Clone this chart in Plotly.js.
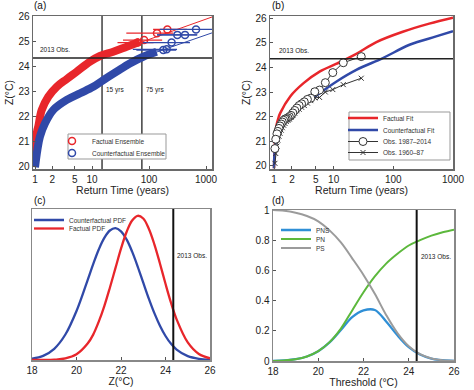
<!DOCTYPE html>
<html><head><meta charset="utf-8">
<script src="https://cdn.plot.ly/plotly-3.0.1.min.js"></script>
<style>html,body{margin:0;padding:0;background:#fff}#chart{width:474px;height:390px}</style>
</head><body><div id="chart"></div>
<script>
// ---------- Panel (a): ensemble return times ----------
const aFactBandT = [1.0, 1.04, 1.1, 1.14, 1.31, 1.71, 2.4, 3.6, 5.4, 9.2, 13.8, 23.6, 40.5, 69];
const aFactBandZ = [20.4, 21.05, 21.45, 21.58, 22.25, 22.79, 23.19, 23.5, 23.8, 24.2, 24.43, 24.6, 24.8, 25.0];
const aCfBandT = [1.0, 1.1, 1.22, 1.5, 2.1, 3.6, 6.2, 10.5, 15.8, 27, 46, 79, 136];
const aCfBandZ = [19.95, 20.64, 21.18, 21.72, 22.26, 22.66, 22.93, 23.19, 23.46, 23.8, 24.13, 24.4, 24.6];
const aFactFitT = [50, 1274];
const aFactFitZ = [24.85, 26.0];
const aCfFitT = [79, 1274];
const aCfFitZ = [24.4, 25.36];
const aFactPtT = [63, 82, 138, 210];
const aFactPtZ = [24.97, 25.07, 25.35, 25.5];
const aFactPtLo = [28, 35, 40, 118];
const aFactPtHi = [120, 170, 266, 460];
const aCfPtT = [178, 204, 249, 314, 428, 668];
const aCfPtZ = [24.67, 24.7, 24.97, 25.28, 25.28, 25.5];
const aCfPtLo = [60, 52, 78, 138, 138, 155];
const aCfPtHi = [300, 310, 523, 700, 700, 1274];
const markT = [15, 75];
const markLabels = ['15 yrs', '75 yrs'];
const obs2013 = 24.35;

// ---------- Panel (b): fits and observations ----------
const bFactFitT = [1.0, 1.02, 1.05, 1.09, 1.18, 1.27, 1.87, 3.13, 5.9, 11.2, 24, 52, 144, 400, 1000];
const bFactFitZ = [19.9, 20.6, 21.2, 21.6, 21.93, 22.14, 22.82, 23.36, 23.84, 24.15, 24.55, 25.03, 25.45, 25.78, 26.02];
const bCfFitT = [1.0, 1.02, 1.08, 1.26, 1.53, 1.87, 3.13, 5.9, 11.2, 24, 67, 187, 522, 1000];
const bCfFitZ = [19.9, 20.5, 21.0, 21.45, 21.78, 21.98, 22.45, 22.96, 23.43, 23.9, 24.38, 24.92, 25.26, 25.47];
const obsT = [29, 14.5, 9.67, 7.25, 5.8, 4.83, 4.14, 3.63, 3.22, 2.9, 2.64, 2.42, 2.23, 2.07, 1.93, 1.81, 1.71, 1.61, 1.53, 1.45, 1.38, 1.32, 1.26, 1.21, 1.16, 1.12, 1.07, 1.036];
const obs1987Z = [24.44, 24.19, 23.79, 23.38, 23.08, 23.01, 22.75, 22.7, 22.6, 22.52, 22.45, 22.35, 22.25, 22.15, 22.05, 22.0, 21.95, 21.92, 21.9, 21.85, 21.78, 21.7, 21.62, 21.52, 21.4, 21.3, 21.08, 20.7];
const obs1960Z = [23.56, 23.3, 23.1, 23.0, 22.78, 22.76, 22.65, 22.55, 22.45, 22.38, 22.3, 22.24, 22.15, 22.05, 21.98, 21.9, 21.85, 21.8, 21.72, 21.65, 21.55, 21.45, 21.32, 21.2, 21.05, 20.8, 20.5, 20.1];

// ---------- Panel (c): PDFs ----------
const cZ = [18, 18.5, 19, 19.5, 20, 20.5, 20.75, 21, 21.25, 21.5, 21.75, 22, 22.25, 22.5, 22.75, 23, 23.25, 23.5, 23.75, 24, 24.25, 24.5, 25, 25.5, 26];
const cFactPdf = [0.00002, 0.00015, 0.0009, 0.004, 0.0145, 0.042, 0.065, 0.098, 0.138, 0.185, 0.235, 0.285, 0.3275, 0.357, 0.369, 0.362, 0.336, 0.296, 0.247, 0.195, 0.146, 0.104, 0.045, 0.0155, 0.0044];
const cCfPdf = [0.0034, 0.0107, 0.0287, 0.0652, 0.1254, 0.2046, 0.2454, 0.2829, 0.3125, 0.3314, 0.3373, 0.3292, 0.3085, 0.2773, 0.2392, 0.1979, 0.157, 0.1198, 0.0876, 0.0614, 0.0413, 0.0267, 0.0099, 0.0031, 0.0008];

// ---------- Panel (d): probabilities of causation ----------
const dU = [18, 18.5, 19, 19.5, 20, 20.5, 21, 21.5, 22, 22.5, 23, 23.5, 24, 24.5, 25, 25.5, 26];
const dPS = [1.0, 0.995, 0.982, 0.96, 0.925, 0.865, 0.785, 0.68, 0.57, 0.445, 0.305, 0.185, 0.098, 0.045, 0.017, 0.005, 0.001];
const dPN = [0, 0.004, 0.012, 0.03, 0.065, 0.125, 0.215, 0.335, 0.455, 0.56, 0.645, 0.71, 0.765, 0.8, 0.83, 0.853, 0.87];
const dPNS = [0, 0.004, 0.012, 0.03, 0.065, 0.123, 0.205, 0.29, 0.335, 0.338, 0.262, 0.17, 0.092, 0.043, 0.016, 0.005, 0.001];

const RED = '#e8262b', BLUE = '#3049a8';
const FONT = 'Liberation Sans, Arial, sans-serif';

function errArrays(T, lo, hi) {
  return {type: 'data', symmetric: false, array: T.map((t, i) => hi[i] - t), arrayminus: T.map((t, i) => t - lo[i]), width: 0, thickness: 1.3};
}

const traces = [
  // (a)
  {x: aFactBandT, y: aFactBandZ, mode: 'lines', line: {color: RED, width: 8, shape: 'spline'}, xaxis: 'x', yaxis: 'y', showlegend: false, hoverinfo: 'skip'},
  {x: aCfBandT, y: aCfBandZ, mode: 'lines', line: {color: BLUE, width: 8, shape: 'spline'}, xaxis: 'x', yaxis: 'y', showlegend: false, hoverinfo: 'skip'},
  {x: aFactFitT, y: aFactFitZ, mode: 'lines', line: {color: RED, width: 1}, xaxis: 'x', yaxis: 'y', showlegend: false},
  {x: aCfFitT, y: aCfFitZ, mode: 'lines', line: {color: BLUE, width: 1}, xaxis: 'x', yaxis: 'y', showlegend: false},
  {x: aFactPtT, y: aFactPtZ, mode: 'markers', name: 'Factual Ensemble', marker: {symbol: 'circle-open', size: 7, color: RED, line: {width: 1.5}},
   error_x: Object.assign(errArrays(aFactPtT, aFactPtLo, aFactPtHi), {color: RED}), xaxis: 'x', yaxis: 'y', legend: 'legend'},
  {x: aCfPtT, y: aCfPtZ, mode: 'markers', name: 'Counterfactual Ensemble', marker: {symbol: 'circle-open', size: 7, color: BLUE, line: {width: 1.5}},
   error_x: Object.assign(errArrays(aCfPtT, aCfPtLo, aCfPtHi), {color: BLUE}), xaxis: 'x', yaxis: 'y', legend: 'legend5'},
  // (b)
  {x: bFactFitT, y: bFactFitZ, mode: 'lines', name: 'Factual Fit', line: {color: RED, width: 2.5, shape: 'spline'}, xaxis: 'x2', yaxis: 'y2', legend: 'legend2'},
  {x: bCfFitT, y: bCfFitZ, mode: 'lines', name: 'Counterfactual Fit', line: {color: BLUE, width: 2.5, shape: 'spline'}, xaxis: 'x2', yaxis: 'y2', legend: 'legend6'},
  {x: obsT, y: obs1960Z, mode: 'lines+markers', name: 'Obs. 1960\u201387', line: {color: '#333', width: 1}, marker: {symbol: 'x-thin', size: 5, color: '#333', line: {width: 1, color: '#333'}}, xaxis: 'x2', yaxis: 'y2', legend: 'legend8'},
  {x: obsT, y: obs1987Z, mode: 'lines+markers', name: 'Obs. 1987\u20132014', line: {color: '#333', width: 1}, marker: {symbol: 'circle', size: 8, color: '#fff', line: {width: 1, color: '#333'}}, xaxis: 'x2', yaxis: 'y2', legend: 'legend7'},
  // (c)
  {x: cZ, y: cCfPdf, mode: 'lines', name: 'Counterfactual PDF', line: {color: BLUE, width: 2.3, shape: 'spline'}, xaxis: 'x3', yaxis: 'y3', legend: 'legend3'},
  {x: cZ, y: cFactPdf, mode: 'lines', name: 'Factual PDF', line: {color: RED, width: 2.3, shape: 'spline'}, xaxis: 'x3', yaxis: 'y3', legend: 'legend9'},
  // (d)
  {x: dU, y: dPNS, mode: 'lines', name: 'PNS', line: {color: '#2f8fd6', width: 2.3, shape: 'spline'}, xaxis: 'x4', yaxis: 'y4', legend: 'legend4'},
  {x: dU, y: dPN, mode: 'lines', name: 'PN', line: {color: '#5cb83c', width: 2, shape: 'spline'}, xaxis: 'x4', yaxis: 'y4', legend: 'legend10'},
  {x: dU, y: dPS, mode: 'lines', name: 'PS', line: {color: '#9b9b9b', width: 2, shape: 'spline'}, xaxis: 'x4', yaxis: 'y4', legend: 'legend11'}
];

const baseAx = {showline: true, mirror: true, linecolor: '#6a6a6a', linewidth: 1.5, ticks: 'inside', ticklen: 3, tickcolor: '#555',
  showgrid: false, zeroline: false, tickfont: {size: 10, color: '#222', family: FONT}};
function ax(o) { return Object.assign({}, baseAx, o); }
const tTitle = (t) => ({text: t, font: {size: 10.5, color: '#222', family: FONT}, standoff: 2});

const logTicks = {tickmode: 'array', tickvals: [1, 2, 5, 10, 100, 1000], ticktext: ['1', '2', '5', '10', '100', '1000']};

// one compact legend per entry so the rows can sit as close as in the reference
function leg(xpx, ypx) {
  return {font: {size: 6.5, family: FONT, color: '#333'}, bgcolor: 'rgba(0,0,0,0)', borderwidth: 0, itemwidth: 30,
    x: xpx / 474, y: 1 - ypx / 390, xanchor: 'left', yanchor: 'middle'};
}

const annFont = {size: 6.5, color: '#222', family: FONT};
const shapes = [
  {type: 'line', xref: 'x domain', x0: 0, x1: 1, yref: 'y', y0: obs2013, y1: obs2013, line: {color: '#222', width: 1.5}},
  {type: 'line', xref: 'x2 domain', x0: 0, x1: 1, yref: 'y2', y0: obs2013, y1: obs2013, line: {color: '#222', width: 1.5}},
  {type: 'line', xref: 'x3', x0: obs2013, x1: obs2013, yref: 'y3 domain', y0: 0, y1: 1, line: {color: '#111', width: 2}},
  {type: 'line', xref: 'x4', x0: obs2013, x1: obs2013, yref: 'y4 domain', y0: 0, y1: 1, line: {color: '#111', width: 2}}
];
markT.forEach(t => shapes.push({type: 'line', xref: 'x', x0: t, x1: t, yref: 'y domain', y0: 0, y1: 1, line: {color: '#222', width: 1.3}, layer: 'below'}));
// legend frames of panels (a) and (b)
shapes.push({type: 'rect', xref: 'paper', yref: 'paper', x0: 68 / 474, x1: 166 / 474, y0: 1 - 159 / 390, y1: 1 - 134 / 390, fillcolor: '#fff', line: {color: '#999', width: 1}, layer: 'above'});
shapes.push({type: 'rect', xref: 'paper', yref: 'paper', x0: 349 / 474, x1: 450 / 474, y0: 1 - 160 / 390, y1: 1 - 112 / 390, fillcolor: '#fff', line: {color: '#999', width: 1}, layer: 'above'});

const annotations = [
  {text: '(a)', xref: 'paper', yref: 'paper', x: 32 / 474, y: 1 - 6 / 390, xanchor: 'left', yanchor: 'middle', showarrow: false, font: {size: 10, color: '#111', family: FONT}},
  {text: '(b)', xref: 'paper', yref: 'paper', x: 270 / 474, y: 1 - 6 / 390, xanchor: 'left', yanchor: 'middle', showarrow: false, font: {size: 10, color: '#111', family: FONT}},
  {text: '(c)', xref: 'paper', yref: 'paper', x: 32 / 474, y: 1 - 201 / 390, xanchor: 'left', yanchor: 'middle', showarrow: false, font: {size: 10, color: '#111', family: FONT}},
  {text: '(d)', xref: 'paper', yref: 'paper', x: 270 / 474, y: 1 - 201 / 390, xanchor: 'left', yanchor: 'middle', showarrow: false, font: {size: 10, color: '#111', family: FONT}},
  {text: '2013 Obs.', xref: 'x domain', x: 0.03, yref: 'y', y: obs2013, xanchor: 'left', yanchor: 'bottom', yshift: 3, showarrow: false, font: annFont},
  {text: '2013 Obs.', xref: 'x2 domain', x: 0.04, yref: 'y2', y: obs2013, xanchor: 'left', yanchor: 'bottom', yshift: 3, showarrow: false, font: annFont},
  {text: '2013 Obs.', xref: 'x3', x: obs2013, yref: 'y3 domain', y: 0.73, xanchor: 'left', xshift: 2, showarrow: false, font: annFont},
  {text: '2013 Obs.', xref: 'x4', x: obs2013, yref: 'y4 domain', y: 0.73, xanchor: 'left', xshift: 2, showarrow: false, font: annFont}
];
markT.forEach((t, i) => annotations.push({text: markLabels[i], xref: 'x', x: Math.log10(t), yref: 'y', y: 23.06, xanchor: 'left', xshift: 2, showarrow: false, font: annFont}));

const layout = {
  width: 474, height: 390, margin: {l: 0, r: 0, t: 0, b: 0}, paper_bgcolor: '#fff', plot_bgcolor: '#fff',
  font: {family: FONT}, showlegend: true,
  xaxis: ax(Object.assign({type: 'log', range: [-0.035, 3.105], domain: [33 / 474, 212 / 474], anchor: 'y', title: tTitle('Return Time (years)')}, logTicks)),
  yaxis: ax({range: [19.88, 26.04], dtick: 1, domain: [(390 - 169) / 390, (390 - 16) / 390], anchor: 'x', title: tTitle('Z(\u00b0C)')}),
  xaxis2: ax(Object.assign({type: 'log', range: [-0.067, 3.0], domain: [270 / 474, 453 / 474], anchor: 'y2', title: tTitle('Return Time (years)')}, logTicks)),
  yaxis2: ax({range: [19.87, 26.09], dtick: 1, domain: [(390 - 169) / 390, (390 - 16) / 390], anchor: 'x2', title: tTitle('Z(\u00b0C)')}),
  xaxis3: ax({range: [18, 26], dtick: 2, domain: [32 / 474, 210 / 474], anchor: 'y3', title: tTitle('Z(\u00b0C)'), linecolor: '#888'}),
  yaxis3: ax({range: [0, 0.3864], showticklabels: false, ticks: '', domain: [(390 - 360) / 390, (390 - 209) / 390], anchor: 'x3', linecolor: '#888'}),
  xaxis4: ax({range: [18, 26], dtick: 2, domain: [273 / 474, 454 / 474], anchor: 'y4', title: tTitle('Threshold (\u00b0C)'), linecolor: '#888'}),
  yaxis4: ax({range: [0, 1], dtick: 0.2, domain: [(390 - 361) / 390, (390 - 210) / 390], anchor: 'x4', linecolor: '#888'}),
  legend: leg(52, 141), legend5: leg(52, 153),
  legend2: leg(343, 118), legend6: leg(343, 130), legend7: leg(343, 141.5), legend8: leg(343, 152.5),
  legend3: leg(29, 220), legend9: leg(29, 228.5),
  legend4: leg(276, 230), legend10: leg(276, 239), legend11: leg(276, 248),
  shapes: shapes, annotations: annotations
};

Plotly.newPlot('chart', traces, layout, {staticPlot: true, displayModeBar: false});
</script>
</body></html>
